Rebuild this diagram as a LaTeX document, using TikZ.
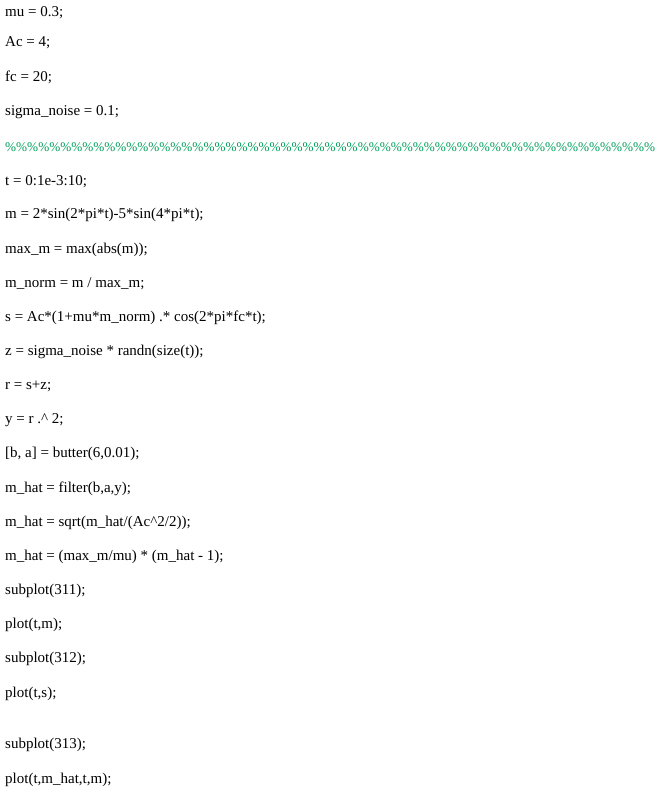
\documentclass[tikz,border=0pt]{standalone}
\usepackage{fontspec}
\setmainfont{Liberation Serif}
\definecolor{cgreen}{RGB}{0,160,90}
\begin{document}
\begin{tikzpicture}[x=1pt,y=-1pt,code/.style={anchor=west,inner sep=0pt,font=\fontsize{15}{15}\selectfont}]
\useasboundingbox (0,0) rectangle (662,800);
\node[code] (l1) at (5,13) {\detokenize{mu = 0.3;}};
\node[code] (l2) at (5,43) {\detokenize{Ac = 4;}};
\node[code] (l3) at (5,77) {\detokenize{fc = 20;}};
\node[code] (l4) at (5,112) {\detokenize{sigma_noise = 0.1;}};
\node[code,text=cgreen] (l5) at (5,147) {\resizebox{650pt}{!}{\%\%\%\%\%\%\%\%\%\%\%\%\%\%\%\%\%\%\%\%\%\%\%\%\%\%\%\%\%\%\%\%\%\%\%\%\%\%\%\%\%\%\%\%\%\%\%\%\%\%\%\%\%\%\%\%\%\%\%}};
\node[code] (l6) at (5,182) {\detokenize{t = 0:1e-3:10;}};
\node[code] (l7) at (5,215) {\detokenize{m = 2*sin(2*pi*t)-5*sin(4*pi*t);}};
\node[code] (l8) at (5,250) {\detokenize{max_m = max(abs(m));}};
\node[code] (l9) at (5,284) {\detokenize{m_norm = m / max_m;}};
\node[code] (l10) at (5,318) {\detokenize{s = Ac*(1+mu*m_norm) .* cos(2*pi*fc*t);}};
\node[code] (l11) at (5,352) {\detokenize{z = sigma_noise * randn(size(t));}};
\node[code] (l12) at (5,386) {\detokenize{r = s+z;}};
\node[code] (l13) at (5,420) {\detokenize{y = r .^ 2;}};
\node[code] (l14) at (5,454) {\detokenize{[b, a] = butter(6,0.01);}};
\node[code] (l15) at (5,489) {\detokenize{m_hat = filter(b,a,y);}};
\node[code] (l16) at (5,523) {\detokenize{m_hat = sqrt(m_hat/(Ac^2/2));}};
\node[code] (l17) at (5,557) {\detokenize{m_hat = (max_m/mu) * (m_hat - 1);}};
\node[code] (l18) at (5,591) {\detokenize{subplot(311);}};
\node[code] (l19) at (5,625) {\detokenize{plot(t,m);}};
\node[code] (l20) at (5,659) {\detokenize{subplot(312);}};
\node[code] (l21) at (5,694) {\detokenize{plot(t,s);}};
\node[code] (l22) at (5,745) {\detokenize{subplot(313);}};
\node[code] (l23) at (5,780) {\detokenize{plot(t,m_hat,t,m);}};
\end{tikzpicture}
\end{document}
